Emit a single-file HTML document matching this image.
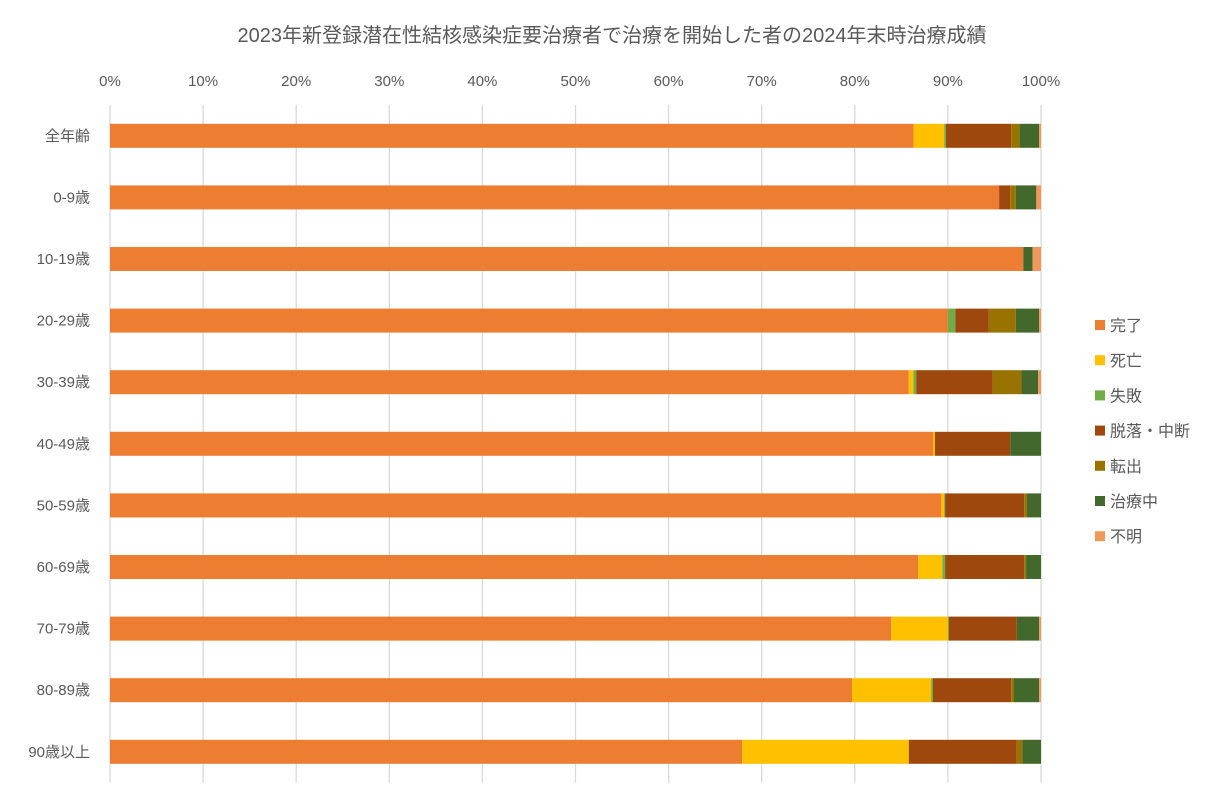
<!DOCTYPE html>
<html><head><meta charset="utf-8"><style>
body{margin:0;background:#fff;font-family:"Liberation Sans","Noto Sans CJK JP",sans-serif;}
</style></head><body>
<svg id="c" width="1224" height="807" style="font-family:'Liberation Sans','Noto Sans CJK JP',sans-serif"></svg>
<script>
const categories=["全年齢","0-9歳","10-19歳","20-29歳","30-39歳","40-49歳","50-59歳","60-69歳","70-79歳","80-89歳","90歳以上"];
const seriesNames=["完了","死亡","失敗","脱落・中断","転出","治療中","不明"];
const colors=["#ED7D31","#FFC000","#70AD47","#9E480E","#997300","#43682B","#F1975A"];
const s0=[86.3,95.5,98.1,90.0,85.8,88.4,89.3,86.8,83.9,79.7,67.9];
const s1=[3.3,0,0,0,0.5,0.2,0.3,2.6,6.1,8.5,17.9];
const s2=[0.2,0,0,0.8,0.3,0,0.1,0.3,0.1,0.2,0];
const s3=[7.0,1.2,0,3.6,8.2,8.1,8.5,8.5,7.3,8.4,11.6];
const s4=[0.9,0.6,0,2.9,3.1,0,0.3,0.2,0,0.3,0.6];
const s5=[2.1,2.2,1.0,2.5,1.8,3.3,1.5,1.6,2.4,2.7,2.0];
const s6=[0.2,0.5,0.9,0.2,0.3,0,0,0,0.2,0.2,0];
const series=[s0,s1,s2,s3,s4,s5,s6];
const ticks=[0,10,20,30,40,50,60,70,80,90,100];
const svg=document.getElementById('c');const NS='http://www.w3.org/2000/svg';
function mk(t,a,p){const e=document.createElementNS(NS,t);for(const k in a)e.setAttribute(k,a[k]);(p||svg).appendChild(e);return e;}
const x0=110,x1=1041,yTop=105,band=61.6,bh=24;
const xs=v=>x0+(x1-x0)*v/100;
const yc=i=>yTop+band*(i+0.5);
let t=mk('text',{x:612,y:42,'text-anchor':'middle','font-size':20,fill:'#595959'});t.textContent="2023年新登録潜在性結核感染症要治療者で治療を開始した者の2024年末時治療成績";

ticks.forEach(v=>{const l=mk('line',{x1:xs(v),x2:xs(v),y1:yTop,y2:yTop+band*categories.length,stroke:'#d9d9d9','stroke-width':1.3});

const tx=mk('text',{x:xs(v),y:86,'text-anchor':'middle','font-size':15,fill:'#595959'});tx.textContent=v+'%';
});
categories.forEach((c,i)=>{const tx=mk('text',{x:90,y:yc(i)+5,'text-anchor':'end','font-size':15,fill:'#595959'});tx.textContent=c;

let acc=0;series.forEach((s,j)=>{const v=s[i];if(v>0){const r=mk('rect',{x:xs(acc),y:yc(i)-bh/2,width:xs(acc+v)-xs(acc),height:bh,fill:colors[j]});
}acc+=v;});});
seriesNames.forEach((n,j)=>{const y=325+j*35.2;const r=mk('rect',{x:1095,y:y-5,width:10,height:10,fill:colors[j]});

const tx=mk('text',{x:1110,y:y+6,'font-size':16,fill:'#595959'});tx.textContent=n;
});
</script></body></html>
